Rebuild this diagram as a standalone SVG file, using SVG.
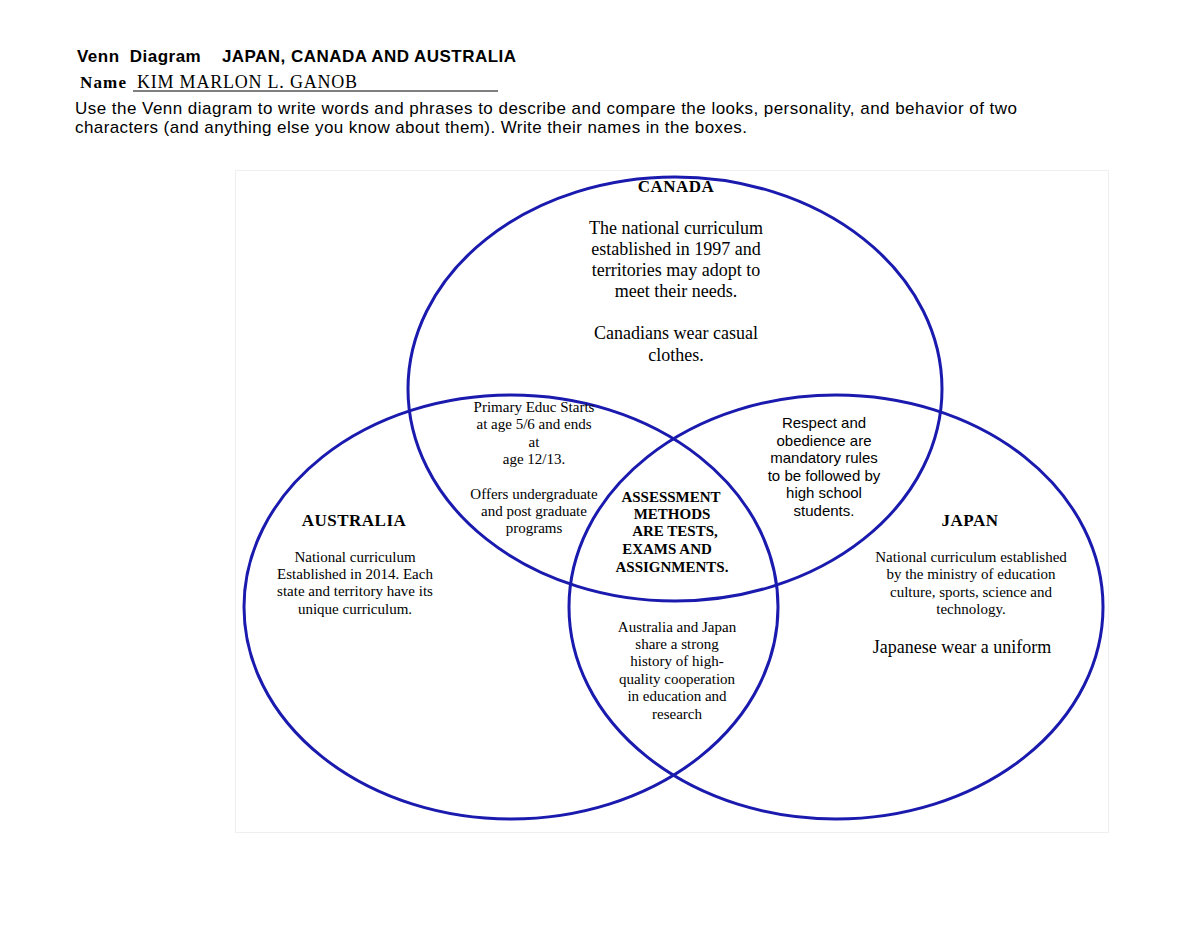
<svg xmlns="http://www.w3.org/2000/svg" width="1200" height="927" viewBox="0 0 1200 927">
<style>
.hdr{font-family:"Liberation Sans",Arial,sans-serif;font-size:17px;font-weight:bold;fill:#000}
.body{font-family:"Liberation Sans",Arial,sans-serif;font-size:17px;fill:#000}
.tb{font-family:"Liberation Serif","Times New Roman",serif;font-weight:bold;fill:#000}
.h{font-family:"Liberation Serif","Times New Roman",serif;font-weight:bold;fill:#000;font-size:17px;letter-spacing:0.5px;text-anchor:middle}
.t{font-family:"Liberation Serif","Times New Roman",serif;fill:#000;text-anchor:middle}
.a{font-family:"Liberation Sans",Arial,sans-serif;fill:#000;text-anchor:middle;font-size:15px}
.ring{fill:none;stroke:#1a1aae;stroke-width:3}
</style>
<rect width="1200" height="927" fill="#fff"/>
<g id="header">
<text class="hdr" x="77" y="62" xml:space="preserve" textLength="439" lengthAdjust="spacing">Venn  Diagram    JAPAN, CANADA AND AUSTRALIA</text>
<text class="tb" x="80" y="88" font-size="17" textLength="46" lengthAdjust="spacing">Name</text>
<text x="137" y="88" font-family="Liberation Serif,'Times New Roman',serif" font-size="18" textLength="220" lengthAdjust="spacing">KIM MARLON L. GANOB</text>
<line x1="133" y1="91" x2="498" y2="91" stroke="#000" stroke-width="1"/>
<text class="body" x="75" y="114" textLength="942" lengthAdjust="spacing">Use the Venn diagram to write words and phrases to describe and compare the looks, personality, and behavior of two</text>
<text class="body" x="75" y="133" textLength="672" lengthAdjust="spacing">characters (and anything else you know about them). Write their names in the boxes.</text>
</g>
<rect x="235.5" y="170.5" width="873" height="662" fill="none" stroke="#efefef" stroke-width="1"/>
<g id="circles">
<ellipse id="canada-circle" class="ring" cx="675" cy="389" rx="267" ry="212"/>
<ellipse id="australia-circle" class="ring" cx="511" cy="607" rx="267" ry="212"/>
<ellipse id="japan-circle" class="ring" cx="836" cy="607" rx="267" ry="212"/>
</g>
<g id="canada">
<text class="h" x="676" y="192">CANADA</text>
<text class="t" font-size="18"><tspan x="676" y="234">The national curriculum</tspan><tspan x="676" y="255">established in 1997 and</tspan><tspan x="676" y="276">territories may adopt to</tspan><tspan x="676" y="297">meet their needs.</tspan><tspan x="676" y="339">Canadians wear casual</tspan><tspan x="676" y="361">clothes.</tspan></text>
</g>
<g id="canada-australia">
<text class="t" font-size="15"><tspan x="534" y="412">Primary Educ Starts</tspan><tspan x="534" y="429">at age 5/6 and ends</tspan><tspan x="534" y="447">at</tspan><tspan x="534" y="464">age 12/13.</tspan><tspan x="534" y="499">Offers undergraduate</tspan><tspan x="534" y="516">and post graduate</tspan><tspan x="534" y="533">programs</tspan></text>
</g>
<g id="all-three">
<text class="tb" font-size="15" text-anchor="middle"><tspan x="671" y="502">ASSESSMENT</tspan><tspan x="672" y="519">METHODS</tspan><tspan x="675" y="536">ARE TESTS,</tspan><tspan x="667" y="554">EXAMS AND</tspan><tspan x="672" y="572">ASSIGNMENTS.</tspan></text>
</g>
<g id="canada-japan">
<text class="a"><tspan x="824" y="428">Respect and</tspan><tspan x="824" y="446">obedience are</tspan><tspan x="824" y="463">mandatory rules</tspan><tspan x="824" y="481">to be followed by</tspan><tspan x="824" y="498">high school</tspan><tspan x="824" y="516">students.</tspan></text>
</g>
<g id="australia">
<text class="h" x="354" y="526">AUSTRALIA</text>
<text class="t" font-size="15"><tspan x="355" y="562">National curriculum</tspan><tspan x="355" y="579">Established in 2014. Each</tspan><tspan x="355" y="596">state and territory have its</tspan><tspan x="355" y="614">unique curriculum.</tspan></text>
</g>
<g id="japan">
<text class="h" x="970" y="526">JAPAN</text>
<text class="t" font-size="15"><tspan x="971" y="562">National curriculum established</tspan><tspan x="971" y="579">by the ministry of education</tspan><tspan x="971" y="597">culture, sports, science and</tspan><tspan x="971" y="614">technology.</tspan></text>
<text class="t" x="962" y="653" font-size="18">Japanese wear a uniform</text>
</g>
<g id="australia-japan">
<text class="t" font-size="15"><tspan x="677" y="632">Australia and Japan</tspan><tspan x="677" y="649">share a strong</tspan><tspan x="677" y="666">history of high-</tspan><tspan x="677" y="684">quality cooperation</tspan><tspan x="677" y="701">in education and</tspan><tspan x="677" y="719">research</tspan></text>
</g>
</svg>
